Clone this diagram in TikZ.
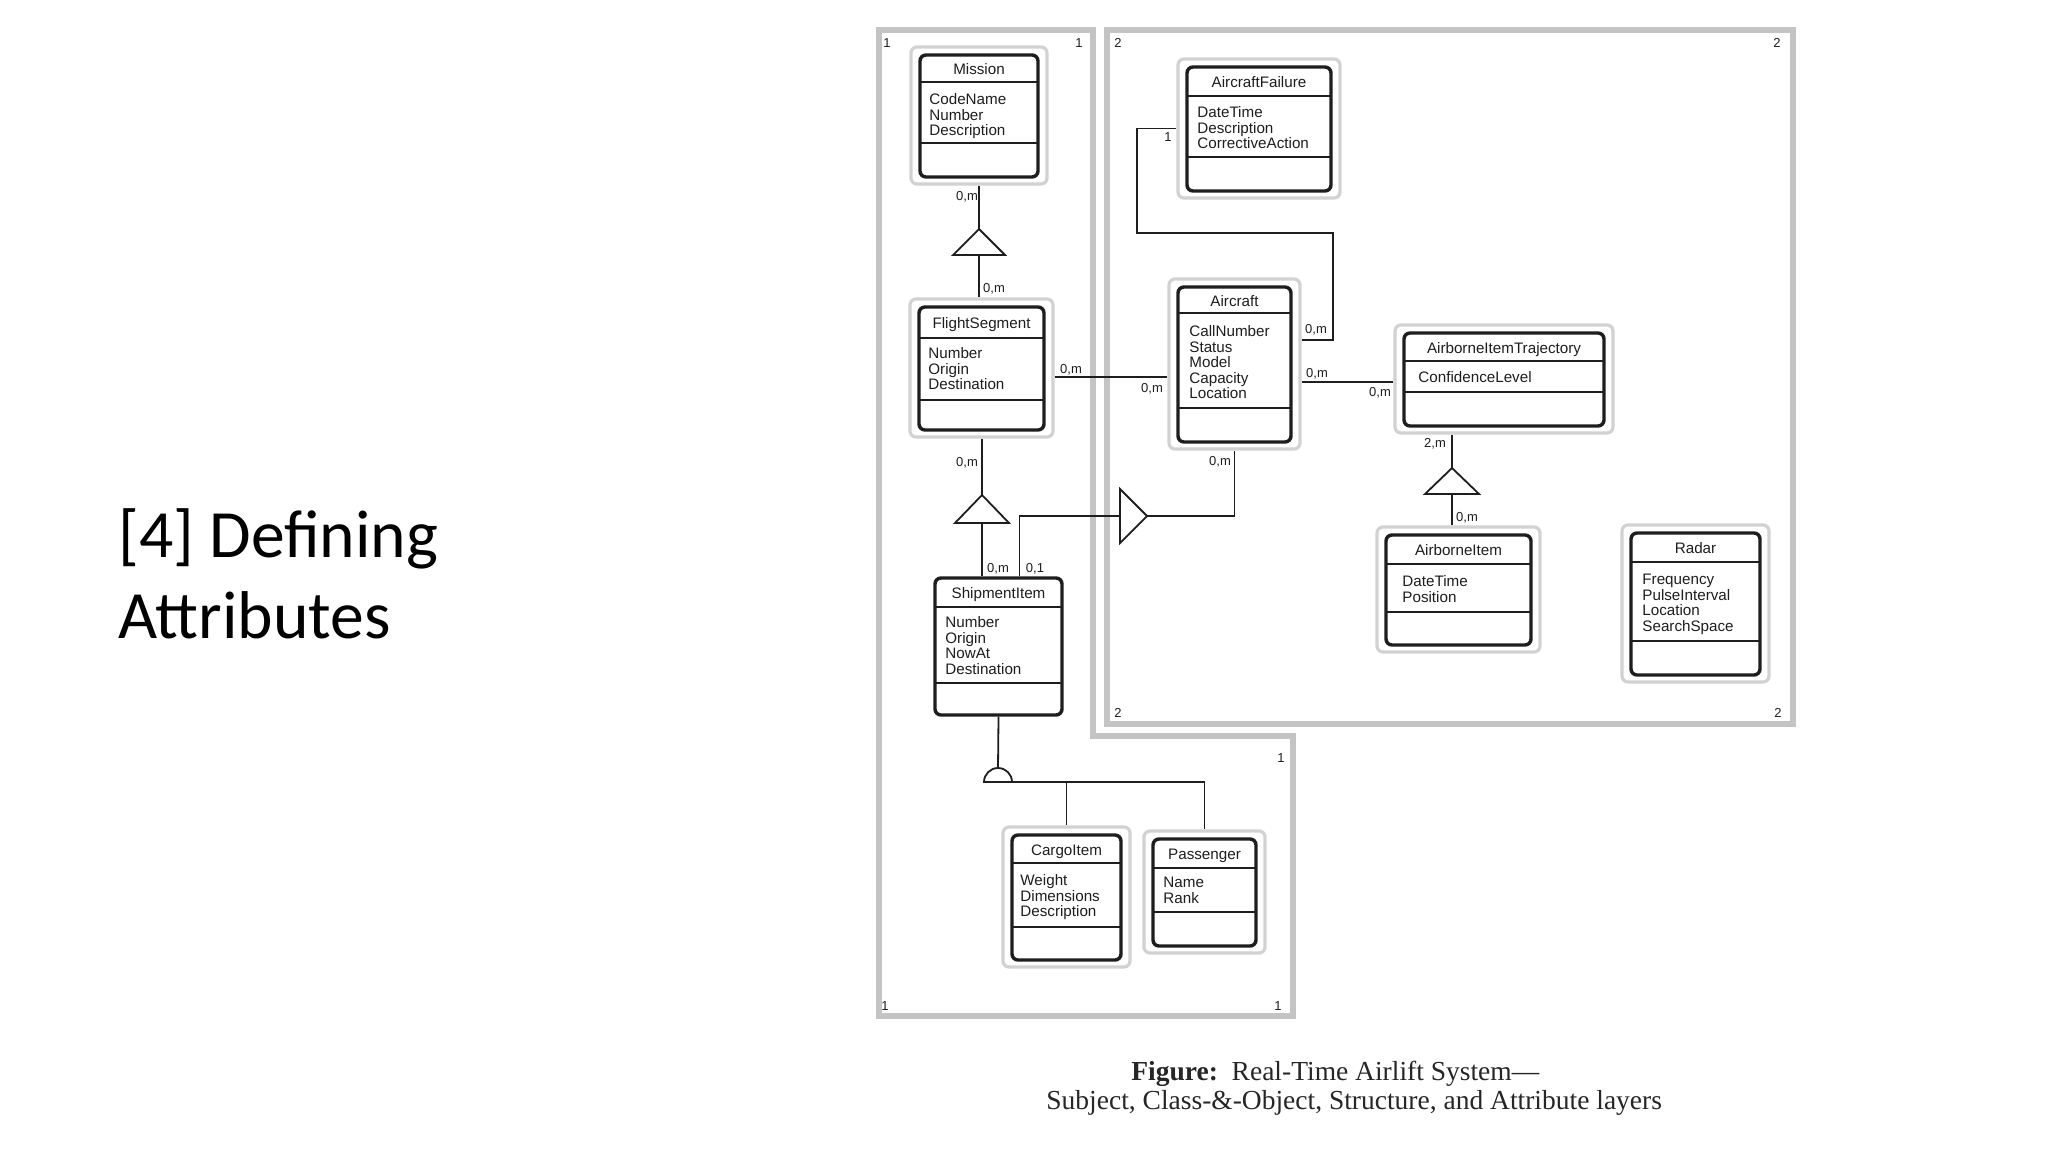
\documentclass[tikz,border=0pt]{standalone}
\usepackage{fontspec}
\setmainfont{Liberation Serif}
\newfontfamily\diagfont{Liberation Sans}
\newfontfamily\slidefont{Carlito}
\usetikzlibrary{fit,calc}
\definecolor{framegray}{RGB}{196,196,196}
\definecolor{boxgray}{RGB}{210,210,210}
\definecolor{ink}{RGB}{30,30,30}
\tikzset{
  subjframe/.style={draw=framegray, line width=3.2pt, line join=miter},
  outerbox/.style={draw=boxgray, line width=1.6pt, rounded corners=3pt, inner sep=0pt, fill=white},
  classbox/.style={draw=ink, line width=1.7pt, rounded corners=3pt, inner sep=0pt},
  divider/.style={draw=ink, line width=0.9pt},
  conn/.style={draw=ink, line width=0.9pt},
  gstri/.style={draw=ink, line width=0.9pt, fill=white, line join=miter},
  ctitle/.style={font=\diagfont\fontsize{7.6}{8}\selectfont, inner sep=0pt, text=ink, text height=5.4pt, text depth=0pt},
  attr/.style={font=\diagfont\fontsize{7.6}{8}\selectfont, inner sep=0pt, anchor=west, text height=5.4pt, text depth=0pt, text=ink},
  mult/.style={font=\diagfont\fontsize{6.5}{7}\selectfont, inner sep=0pt, text=ink, text height=4.7pt, text depth=0pt},
  slidetxt/.style={font=\slidefont\fontsize{33.8}{40}\selectfont, inner sep=0pt, anchor=base west},
  captxt/.style={font=\fontsize{13.75}{16}\selectfont, inner sep=0pt, anchor=base west, text=black!85},
}
\newcommand{\umlclass}[9]{%
  \ifnum#9=1
    \node[outerbox, fit={({#2-9},{#3-8}) ({#4+9},{#5+7})}] (#1-o) {};
  \fi
  \node[classbox, fit={(#2,#3) (#4,#5)}] (#1) {};
  \draw[divider] (#2,#6) -- (#4,#6);
  \draw[divider] (#2,#7) -- (#4,#7);
  \node[ctitle] (#1-t) at ({(#2+#4)/2},{(#3+#6)/2+1}) {#8};
}
\newcommand{\attrlist}[4]{%
  \foreach \a [count=\i from 0] in {#4} {\node[attr] (#1-a\i) at (#2,{#3+15.6*\i}) {\a};}
}
\begin{document}
\begin{tikzpicture}[x=0.5pt,y=-0.5pt]
\fill[white] (0,0) rectangle (2048,1152);
\useasboundingbox (0,0) rectangle (2048,1152);

% slide heading
\node[slidetxt] (h1) at (118,557) {[4] Defining};
\node[slidetxt] (h2) at (118,638) {Attributes};

% subject frames
\draw[subjframe] (879,30) -- (1093,30) -- (1093,736) -- (1293,736) -- (1293,1016) -- (879,1016) -- cycle;
\draw[subjframe] (1107,30) rectangle (1793,724);

% subject numbers
\node[mult] (s1a) at (887,43) {1};
\node[mult] (s1b) at (1079,43) {1};
\node[mult] (s1c) at (885,1006) {1};
\node[mult] (s1d) at (1278,1006) {1};
\node[mult] (s1e) at (1281,758) {1};
\node[mult] (s2a) at (1118,43) {2};
\node[mult] (s2b) at (1777,43) {2};
\node[mult] (s2c) at (1118,713) {2};
\node[mult] (s2d) at (1778,713) {2};

% classes
\umlclass{mission}{920}{55}{1038}{177}{82}{143}{Mission}{1}
\attrlist{mission}{929}{99}{CodeName,Number,Description}
\umlclass{fs}{919}{307}{1044}{430}{338}{400}{FlightSegment}{1}
\attrlist{fs}{928}{353}{Number,Origin,Destination}
\umlclass{ship}{935}{578}{1062}{715}{607}{683}{ShipmentItem}{0}
\attrlist{ship}{945}{622}{Number,Origin,NowAt,Destination}
\umlclass{cargo}{1012}{835}{1121}{960}{863}{927}{CargoItem}{1}
\attrlist{cargo}{1020}{880}{Weight,Dimensions,Description}
\umlclass{pass}{1153}{839}{1256}{946}{868}{912}{Passenger}{1}
\attrlist{pass}{1163}{882}{Name,Rank}
\umlclass{af}{1187}{67}{1331}{191}{96}{157}{AircraftFailure}{1}
\attrlist{af}{1197}{112}{DateTime,Description,CorrectiveAction}
\umlclass{ac}{1178}{287}{1291}{442}{313}{408}{Aircraft}{1}
\attrlist{ac}{1189}{331}{CallNumber,Status,Model,Capacity,Location}
\umlclass{traj}{1404}{333}{1604}{426}{361}{392}{AirborneItemTrajectory}{1}
\attrlist{traj}{1418}{377}{ConfidenceLevel}
\umlclass{air}{1386}{535}{1531}{645}{564}{612}{AirborneItem}{1}
\attrlist{air}{1402}{581}{DateTime,Position}
\umlclass{radar}{1631}{533}{1760}{675}{562}{641}{Radar}{1}
\attrlist{radar}{1642}{579}{Frequency,PulseInterval,Location,SearchSpace}

% structure triangles (apex / base centre)
\coordinate (t1a) at (979,229); \coordinate (t1b) at (979,255);
\coordinate (t2a) at (982,495); \coordinate (t2b) at (982,523);
\coordinate (t3a) at (1147,516); \coordinate (t3b) at (1120,516);
\coordinate (t4a) at (1452,468); \coordinate (t4b) at (1452,494);

% connectors
\draw[conn] (t1a |- mission-o.south) -- (t1a);
\draw[conn] (t1b) -- (t1b |- fs-o.north);
\draw[conn] (t2a |- fs-o.south) -- (t2a);
\draw[conn] (t2b) -- (t2b |- ship.north);
\draw[conn] ($(ship.north)+(21,0)$) |- (t3b);
\draw[conn] (t3a) -| (ac-o.south);
\draw[conn] (t4a |- traj-o.south) -- (t4a);
\draw[conn] (t4b) -- (t4b |- air-o.north);

\coordinate (fsac) at (0,377);
\draw[conn] (fs-o.east |- fsac) -- (ac-o.west |- fsac);
\coordinate (actr) at (0,382);
\draw[conn] (ac-o.east |- actr) -- (traj-o.west |- actr);

\coordinate (afbend) at (1137,233);
\coordinate (afbend2) at (1333,340);
\draw[conn] (af-o.west) -| (afbend) -| (afbend2) -- (afbend2 -| ac-o.east);

% whole-part semicircle
\coordinate (sc) at (998,782);
\draw[conn] (ship.south) -- ($(sc)+(0,-14)$);
\draw[conn] ($(sc)+(-14,0)$) -- (pass-o.north |- sc);
\draw[conn] (cargo-o.north |- sc) -- (cargo-o.north);
\draw[conn] (pass-o.north |- sc) -- (pass-o.north);
\draw[gstri] ($(sc)+(-14,0)$) arc[start angle=180, end angle=360, radius=14] -- cycle;

% triangles
\draw[gstri] (t1a) -- ++(26,26) -- ++(-52,0) -- cycle;
\draw[gstri] (t2a) -- ++(27,28) -- ++(-54,0) -- cycle;
\draw[gstri] (t3a) -- ++(-27,-27) -- ++(0,54) -- cycle;
\draw[gstri] (t4a) -- ++(27,26) -- ++(-54,0) -- cycle;

% multiplicities
\node[mult] (m1) at (967,196) {0,m};
\node[mult] (m2) at (994,288) {0,m};
\node[mult] (m3) at (1071,369) {0,m};
\node[mult] (m4) at (1152,388) {0,m};
\node[mult] (m5) at (967,462) {0,m};
\node[mult] (m6) at (998,568) {0,m};
\node[mult] (m7) at (1035,568) {0,1};
\node[mult] (m8) at (1220,461) {0,m};
\node[mult] (m9) at (1168,137) {1};
\node[mult] (m10) at (1316,329) {0,m};
\node[mult] (m11) at (1317,373) {0,m};
\node[mult] (m12) at (1380,392) {0,m};
\node[mult] (m13) at (1435,443) {2,m};
\node[mult] (m14) at (1467,517) {0,m};

% caption
\node[captxt] (cap1) at (1131,1080) {\textbf{Figure:}\ \ Real-Time Airlift System—};
\node[captxt] (cap2) at (1046,1109) {Subject, Class-\&-Object, Structure, and Attribute layers};
\end{tikzpicture}
\end{document}
